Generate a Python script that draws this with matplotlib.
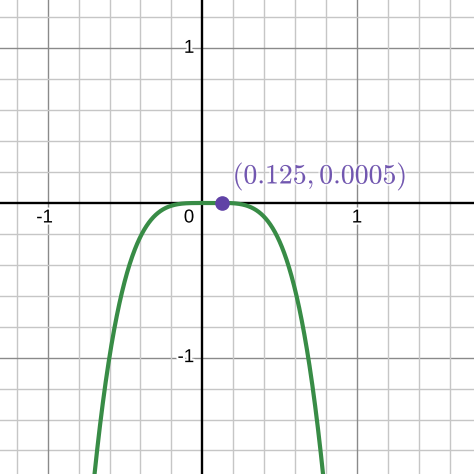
import numpy as np
import matplotlib
matplotlib.use("Agg")
import matplotlib.pyplot as plt
import matplotlib.patheffects as pe

# Curve: polynomial coefficients (highest power first)
coeffs = [-6.0, 1.0, 0.0, 0.0, 0.0]
point_x = 0.125
point_y = 0.0005
point_label = r"$(0.125, 0.0005)$"
x_ticks = [-1, 1]
y_ticks = [-1, 1]

plt.rcParams["mathtext.fontset"] = "cm"

fig = plt.figure(figsize=(4.74, 4.74), dpi=100)
ax = fig.add_axes([0, 0, 1, 1])
unit = 154.65
x0p, y0p = 202.3, 203.0
ax.set_xlim(-x0p / unit, (474 - x0p) / unit)
ax.set_ylim(-(474 - y0p) / unit, y0p / unit)
ax.set_axis_off()

# grid
for k in range(-10, 11):
    v = k * 0.2
    major = (k % 5 == 0)
    col = "#8a8a8a" if major else "#c6c6c6"
    if k != 0:
        ax.axvline(v, color=col, lw=1.0, zorder=1)
        ax.axhline(v, color=col, lw=1.0, zorder=1)
ax.axhline(0, color="black", lw=1.7, zorder=2)
ax.axvline(0, color="black", lw=1.7, zorder=2)

halo = [pe.withStroke(linewidth=3, foreground="white")]
fs = 13.5
for t in x_ticks:
    ax.annotate(f"{t}", (t, 0), xytext=(-3 if t < 0 else 0, -15),
                textcoords="offset pixels", ha="center", va="center",
                fontsize=fs, family="Liberation Sans", path_effects=halo, zorder=3)
for t in y_ticks:
    ax.annotate(f"{t}", (0, t), xytext=(-8, 0), textcoords="offset pixels",
                ha="right", va="center", fontsize=fs, family="Liberation Sans",
                path_effects=halo, zorder=3)
ax.annotate("0", (0, 0), xytext=(-8, -15), textcoords="offset pixels",
            ha="right", va="center", fontsize=fs, family="Liberation Sans",
            path_effects=halo, zorder=3)

xs = np.linspace(-1.0, 1.0, 1200)
ys = np.polyval(coeffs, xs)
ax.plot(xs, ys, color="#388c46", lw=3.0, zorder=4, solid_capstyle="round")

ax.plot([point_x], [point_y], "o", color="#6042a6", ms=9.5, zorder=5)
ax.annotate(point_label, (point_x, point_y), xytext=(11, 27),
            textcoords="offset pixels", ha="left", va="center",
            fontsize=20, color="#6042a6", alpha=0.85, zorder=5,
            path_effects=[pe.withStroke(linewidth=3, foreground="white", alpha=0.6)])

fig.savefig("out.png", dpi=100)
